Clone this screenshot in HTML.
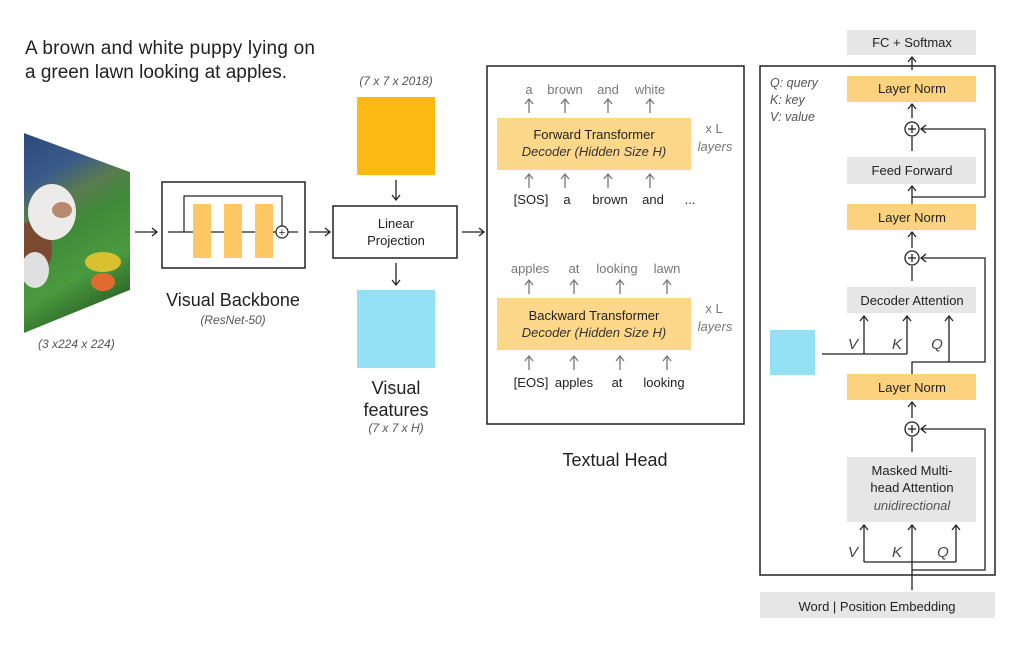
<!DOCTYPE html>
<html><head><meta charset="utf-8"><style>
html,body{margin:0;padding:0;background:#fff;}
svg{display:block;font-family:"Liberation Sans",sans-serif;}
</style></head><body>
<svg width="1024" height="645" viewBox="0 0 1024 645" xmlns="http://www.w3.org/2000/svg">
<defs>
<marker id="a" markerWidth="10" markerHeight="10" refX="8" refY="5" orient="auto" markerUnits="userSpaceOnUse">
<polyline points="3,1 8,5 3,9" fill="none" stroke="#222" stroke-width="1.3"/></marker>
<marker id="g" markerWidth="10" markerHeight="10" refX="8" refY="5" orient="auto" markerUnits="userSpaceOnUse">
<polyline points="3,1 8,5 3,9" fill="none" stroke="#777" stroke-width="1.3"/></marker>
<linearGradient id="img" x1="0" y1="0" x2="0.3" y2="1">
<stop offset="0" stop-color="#2a4a7a"/><stop offset="0.25" stop-color="#3a5a8a"/>
<stop offset="0.4" stop-color="#5a7a50"/><stop offset="0.55" stop-color="#3f8a3a"/>
<stop offset="0.8" stop-color="#4a9a3e"/><stop offset="1" stop-color="#2f6a2a"/>
</linearGradient>
<clipPath id="cp"><polygon points="24,133 130,172 130,290 24,333"/></clipPath>
</defs>

<text x="25" y="54" font-size="19" fill="#222" textLength="290">A brown and white puppy lying on</text>
<text x="25" y="78" font-size="19" fill="#222" textLength="262">a green lawn looking at apples.</text>

<g clip-path="url(#cp)">
<polygon points="24,133 130,172 130,290 24,333" fill="url(#img)"/>
<ellipse cx="30" cy="250" rx="22" ry="28" fill="#7a4a30"/>
<ellipse cx="52" cy="212" rx="24" ry="28" fill="#ecebea"/>
<ellipse cx="35" cy="270" rx="14" ry="18" fill="#e0e0e0"/>
<ellipse cx="62" cy="210" rx="10" ry="8" fill="#b88a70"/>
<ellipse cx="103" cy="262" rx="18" ry="10" fill="#d8c030"/>
<ellipse cx="103" cy="282" rx="12" ry="9" fill="#e06a30"/>
</g>
<text x="38" y="348" font-size="12" fill="#555" font-style="italic">(3 x224 x 224)</text>

<line x1="135" y1="232" x2="157" y2="232" stroke="#222" stroke-width="1.3" marker-end="url(#a)"/>

<rect x="162" y="182" width="143" height="86" fill="none" stroke="#222" stroke-width="1.5"/>
<line x1="168" y1="232" x2="276" y2="232" stroke="#222" stroke-width="1.2"/>
<line x1="288" y1="232" x2="298" y2="232" stroke="#222" stroke-width="1.2"/>
<polyline points="184,232 184,196 282,196 282,226" fill="none" stroke="#222" stroke-width="1.2"/>
<rect x="193" y="204" width="18" height="54" fill="#fdc863"/>
<rect x="224" y="204" width="18" height="54" fill="#fdc863"/>
<rect x="255" y="204" width="18" height="54" fill="#fdc863"/>
<circle cx="282" cy="232" r="6" fill="#fff" stroke="#222" stroke-width="1.2"/>
<text x="282" y="236" font-size="11" text-anchor="middle" fill="#222">+</text>
<text x="233" y="306" font-size="18" text-anchor="middle" fill="#222">Visual Backbone</text>
<text x="233" y="324" font-size="12" text-anchor="middle" fill="#555" font-style="italic">(ResNet-50)</text>

<line x1="309" y1="232" x2="330" y2="232" stroke="#222" stroke-width="1.3" marker-end="url(#a)"/>

<text x="396" y="85" font-size="12" text-anchor="middle" fill="#555" font-style="italic">(7 x 7 x 2018)</text>
<rect x="357" y="97" width="78" height="78" fill="#fdb913"/>
<line x1="396" y1="180" x2="396" y2="200" stroke="#222" stroke-width="1.3" marker-end="url(#a)"/>
<rect x="333" y="206" width="124" height="52" fill="none" stroke="#222" stroke-width="1.5"/>
<text x="396" y="228" font-size="13" text-anchor="middle" fill="#222">Linear</text>
<text x="396" y="245" font-size="13" text-anchor="middle" fill="#222">Projection</text>
<line x1="396" y1="263" x2="396" y2="285" stroke="#222" stroke-width="1.3" marker-end="url(#a)"/>
<rect x="357" y="290" width="78" height="78" fill="#94e0f5"/>
<text x="396" y="394" font-size="18" text-anchor="middle" fill="#222">Visual</text>
<text x="396" y="416" font-size="18" text-anchor="middle" fill="#222">features</text>
<text x="396" y="432" font-size="12" text-anchor="middle" fill="#555" font-style="italic">(7 x 7 x H)</text>

<line x1="462" y1="232" x2="484" y2="232" stroke="#222" stroke-width="1.3" marker-end="url(#a)"/>

<rect x="487" y="66" width="257" height="358" fill="none" stroke="#222" stroke-width="1.5"/>
<text x="615" y="466" font-size="18" text-anchor="middle" fill="#222">Textual Head</text>

<g font-size="13" text-anchor="middle" fill="#777">
<text x="529" y="94">a</text><text x="565" y="94">brown</text><text x="608" y="94">and</text><text x="650" y="94">white</text>
<text x="530" y="273">apples</text><text x="574" y="273">at</text><text x="617" y="273">looking</text><text x="667" y="273">lawn</text>
<text x="714" y="133">x L</text><text x="715" y="151" font-style="italic">layers</text>
<text x="714" y="313">x L</text><text x="715" y="331" font-style="italic">layers</text>
</g>
<g stroke="#777" stroke-width="1.3" marker-end="url(#g)">
<line x1="529" y1="113" x2="529" y2="99"/><line x1="565" y1="113" x2="565" y2="99"/><line x1="608" y1="113" x2="608" y2="99"/><line x1="650" y1="113" x2="650" y2="99"/>
<line x1="529" y1="188" x2="529" y2="174"/><line x1="565" y1="188" x2="565" y2="174"/><line x1="608" y1="188" x2="608" y2="174"/><line x1="650" y1="188" x2="650" y2="174"/>
<line x1="529" y1="294" x2="529" y2="280"/><line x1="574" y1="294" x2="574" y2="280"/><line x1="620" y1="294" x2="620" y2="280"/><line x1="667" y1="294" x2="667" y2="280"/>
<line x1="529" y1="370" x2="529" y2="356"/><line x1="574" y1="370" x2="574" y2="356"/><line x1="620" y1="370" x2="620" y2="356"/><line x1="667" y1="370" x2="667" y2="356"/>
</g>
<rect x="497" y="118" width="194" height="52" fill="#fdd78a"/>
<text x="594" y="139" font-size="13" text-anchor="middle" fill="#222">Forward Transformer</text>
<text x="594" y="156" font-size="13" text-anchor="middle" fill="#333" font-style="italic">Decoder (Hidden Size H)</text>
<rect x="497" y="298" width="194" height="52" fill="#fdd78a"/>
<text x="594" y="320" font-size="13" text-anchor="middle" fill="#222">Backward Transformer</text>
<text x="594" y="337" font-size="13" text-anchor="middle" fill="#333" font-style="italic">Decoder (Hidden Size H)</text>
<g font-size="13" text-anchor="middle" fill="#222">
<text x="531" y="204">[SOS]</text><text x="567" y="204">a</text><text x="610" y="204">brown</text><text x="653" y="204">and</text><text x="690" y="204">...</text>
<text x="531" y="387">[EOS]</text><text x="574" y="387">apples</text><text x="617" y="387">at</text><text x="664" y="387">looking</text>
</g>

<rect x="760" y="66" width="235" height="509" fill="none" stroke="#222" stroke-width="1.5"/>
<g font-size="12.5" fill="#555" font-style="italic">
<text x="770" y="87">Q: query</text><text x="770" y="104">K: key</text><text x="770" y="121">V: value</text>
</g>
<rect x="847" y="30" width="129" height="25" fill="#e6e6e6"/>
<rect x="847" y="76" width="129" height="26" fill="#fdd27e"/>
<rect x="847" y="157" width="129" height="27" fill="#e6e6e6"/>
<rect x="847" y="204" width="129" height="26" fill="#fdd27e"/>
<rect x="847" y="287" width="129" height="26" fill="#e6e6e6"/>
<rect x="847" y="374" width="129" height="26" fill="#fdd27e"/>
<rect x="847" y="457" width="129" height="65" fill="#e6e6e6"/>
<rect x="760" y="592" width="235" height="26" fill="#e6e6e6"/>
<rect x="770" y="330" width="45" height="45" fill="#94e0f5"/>
<g font-size="13" text-anchor="middle" fill="#222">
<text x="912" y="47">FC + Softmax</text>
<text x="912" y="93">Layer Norm</text>
<text x="912" y="175">Feed Forward</text>
<text x="912" y="222">Layer Norm</text>
<text x="912" y="305">Decoder Attention</text>
<text x="912" y="392">Layer Norm</text>
<text x="912" y="475">Masked Multi-</text>
<text x="912" y="492">head Attention</text>
<text x="912" y="510" fill="#555" font-style="italic">unidirectional</text>
<text x="877" y="611">Word | Position Embedding</text>
</g>
<g font-size="15" fill="#444" font-style="italic" text-anchor="middle">
<text x="853" y="349">V</text><text x="897" y="349">K</text><text x="937" y="349">Q</text>
<text x="853" y="557">V</text><text x="897" y="557">K</text><text x="943" y="557">Q</text>
</g>
<g stroke="#222" stroke-width="1.3" fill="none">
<line x1="912" y1="70" x2="912" y2="57" marker-end="url(#a)"/>
<line x1="912" y1="118" x2="912" y2="104" marker-end="url(#a)"/>
<circle cx="912" cy="129" r="7"/><line x1="908" y1="129" x2="916" y2="129"/><line x1="912" y1="125" x2="912" y2="133"/>
<line x1="912" y1="137" x2="912" y2="151"/>
<line x1="912" y1="204" x2="912" y2="186" marker-end="url(#a)"/>
<polyline points="912,197 985,197 985,129 921,129" marker-end="url(#a)"/>
<line x1="912" y1="248" x2="912" y2="232" marker-end="url(#a)"/>
<circle cx="912" cy="258" r="7"/><line x1="908" y1="258" x2="916" y2="258"/><line x1="912" y1="254" x2="912" y2="262"/>
<line x1="912" y1="266" x2="912" y2="281"/>
<polyline points="912,374 912,362 985,362 985,258 921,258" marker-end="url(#a)"/>
<line x1="822" y1="354" x2="907" y2="354"/>
<line x1="864" y1="354" x2="864" y2="316" marker-end="url(#a)"/>
<line x1="907" y1="354" x2="907" y2="316" marker-end="url(#a)"/>
<line x1="949" y1="362" x2="949" y2="316" marker-end="url(#a)"/>
<line x1="912" y1="418" x2="912" y2="402" marker-end="url(#a)"/>
<circle cx="912" cy="429" r="7"/><line x1="908" y1="429" x2="916" y2="429"/><line x1="912" y1="425" x2="912" y2="433"/>
<line x1="912" y1="437" x2="912" y2="452"/>
<line x1="912" y1="590" x2="912" y2="525" marker-end="url(#a)"/>
<polyline points="864,562 956,562"/>
<line x1="864" y1="562" x2="864" y2="525" marker-end="url(#a)"/>
<line x1="956" y1="562" x2="956" y2="525" marker-end="url(#a)"/>
<polyline points="912,570 985,570 985,429 921,429" marker-end="url(#a)"/>
</g>
</svg>
</body></html>
